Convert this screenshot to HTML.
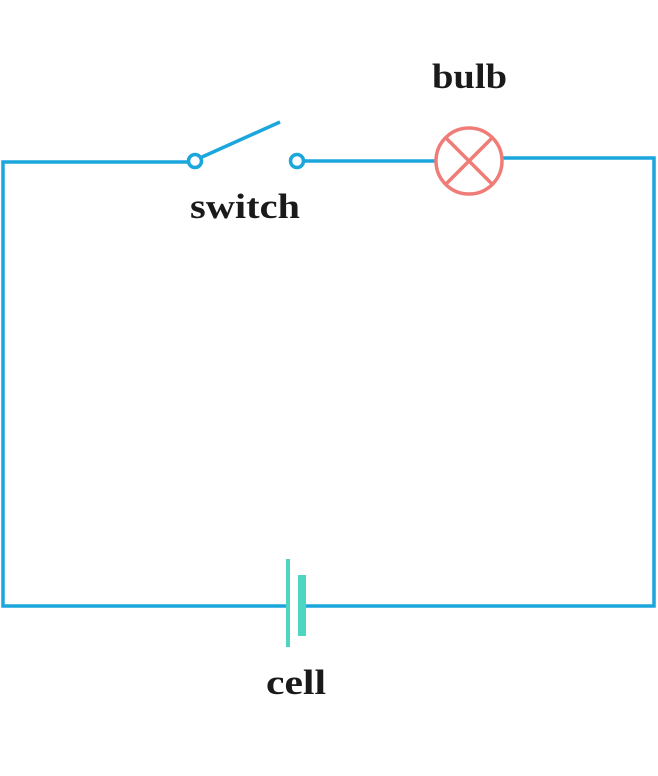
<!DOCTYPE html>
<html><head><meta charset="utf-8"><style>
html,body{margin:0;padding:0;background:#fff;width:658px;height:776px;overflow:hidden}
text{font-family:"Liberation Serif",serif;font-weight:bold;fill:#1a1a1a;font-size:35px}
</style></head><body>
<svg width="658" height="776" viewBox="0 0 658 776">
<g stroke="#1ba6dc" stroke-width="3.5" fill="none">
<polyline points="189,162 3,162 3,606 286,606"/>
<polyline points="306,606 654,606 654,158 503,158"/>
<line x1="303" y1="161" x2="436" y2="161"/>
<circle cx="195" cy="161" r="6.5" fill="#fff"/>
<circle cx="297" cy="161" r="6.5" fill="#fff"/>
<line x1="202" y1="157" x2="280" y2="122"/>
</g>
<g stroke="#f07c78" stroke-width="3.5" fill="none">
<circle cx="469" cy="161" r="33"/>
<line x1="446" y1="138" x2="492" y2="184"/>
<line x1="492" y1="138" x2="446" y2="184"/>
</g>
<rect x="286" y="559" width="4" height="88" fill="#4ed6c0"/>
<rect x="298" y="575" width="8" height="61" fill="#4ed6c0"/>
<text x="432" y="88" textLength="75" lengthAdjust="spacingAndGlyphs">bulb</text>
<text x="190" y="218" textLength="110" lengthAdjust="spacingAndGlyphs">switch</text>
<text x="266" y="694" textLength="60" lengthAdjust="spacingAndGlyphs">cell</text>
</svg>
</body></html>
